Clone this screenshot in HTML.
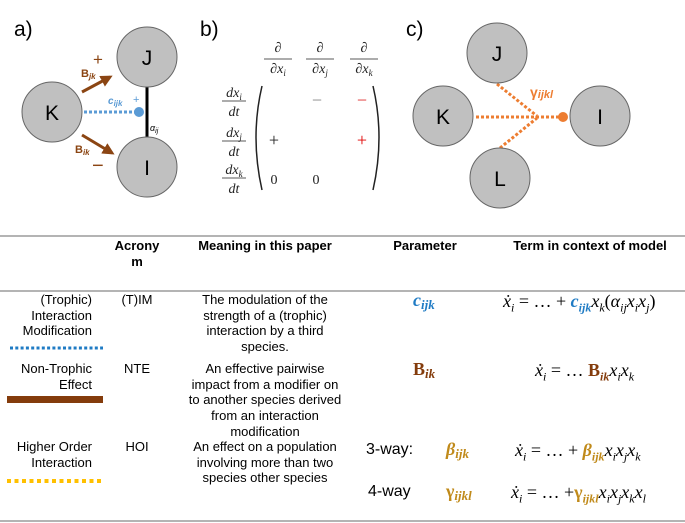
<!DOCTYPE html>
<html><head><meta charset="utf-8"><style>
body{margin:0;background:#fff;width:685px;height:523px;overflow:hidden;position:relative;font-family:"Liberation Sans",sans-serif}
.t{position:absolute;font-family:"Liberation Sans Narrow","Liberation Sans",sans-serif;font-size:13px;line-height:15.7px;color:#000}
.c{text-align:center}
.r{text-align:right}
.m{font-family:"Liberation Serif",serif;font-style:italic}
.e{font-size:18px!important;line-height:20px!important}
.e sub{font-size:12px}
</style></head><body>
<svg width="685" height="523" style="position:absolute;left:0;top:0" font-family="Liberation Sans, sans-serif">
<defs><marker id="ab" markerWidth="4" markerHeight="4" refX="3" refY="2" orient="auto" markerUnits="strokeWidth"><path d="M0,0 L4,2 L0,4 z" fill="#8B4513"/></marker></defs>
<text x="14" y="36" font-size="21">a)</text>
<text x="200" y="36" font-size="21">b)</text>
<text x="406" y="36" font-size="21">c)</text>
<!-- a -->
<line x1="147" y1="85" x2="147" y2="140" stroke="#000" stroke-width="3"/>
<circle cx="52" cy="112" r="30" fill="#c0c0c0" stroke="#666"/>
<circle cx="147" cy="57" r="30" fill="#c0c0c0" stroke="#666"/>
<circle cx="147" cy="167" r="30" fill="#c0c0c0" stroke="#666"/>
<text x="52" y="120" font-size="21" text-anchor="middle">K</text>
<text x="147" y="65" font-size="21" text-anchor="middle">J</text>
<text x="147" y="175" font-size="21" text-anchor="middle">I</text>
<line x1="84" y1="112" x2="136" y2="112" stroke="#5b9bd5" stroke-width="3" stroke-dasharray="3,2"/>
<circle cx="139" cy="112" r="5" fill="#5b9bd5"/>
<text x="108" y="104" font-size="10" fill="#5b9bd5" font-weight="bold" font-style="italic">c<tspan font-size="8" dy="2">ijk</tspan></text>
<text x="133" y="103" font-size="11" fill="#5b9bd5">+</text>
<text x="150" y="131" font-size="9" font-style="italic">α<tspan font-size="7" dy="2">ij</tspan></text>
<line x1="82" y1="92" x2="110" y2="77" stroke="#8B4513" stroke-width="3" marker-end="url(#ab)"/>
<line x1="82" y1="135" x2="112" y2="153" stroke="#8B4513" stroke-width="3" marker-end="url(#ab)"/>
<text x="81" y="77" font-size="11" fill="#8B4513" font-weight="bold">B<tspan font-size="8" dy="2" font-style="italic">jk</tspan></text>
<text x="93" y="65" font-size="17" fill="#8B4513">+</text>
<text x="75" y="153" font-size="11" fill="#8B4513" font-weight="bold">B<tspan font-size="8" dy="2" font-style="italic">ik</tspan></text>
<text x="92" y="172" font-size="20" fill="#8B4513">−</text>
<!-- b -->
<g font-family="Liberation Serif, serif" font-size="14" text-anchor="middle" fill="#222">
<text x="278" y="52">∂</text><line x1="264" y1="59" x2="292" y2="59" stroke="#222" stroke-width="0.8"/><text x="278" y="73" font-style="italic">∂x<tspan font-size="9" dy="3">i</tspan></text>
<text x="320" y="52">∂</text><line x1="306" y1="59" x2="334" y2="59" stroke="#222" stroke-width="0.8"/><text x="320" y="73" font-style="italic">∂x<tspan font-size="9" dy="3">j</tspan></text>
<text x="364" y="52">∂</text><line x1="350" y1="59" x2="378" y2="59" stroke="#222" stroke-width="0.8"/><text x="364" y="73" font-style="italic">∂x<tspan font-size="9" dy="3">k</tspan></text>
<text x="234" y="97" font-style="italic">dx<tspan font-size="9" dy="3">i</tspan></text><line x1="222" y1="101" x2="246" y2="101" stroke="#222" stroke-width="0.8"/><text x="234" y="116" font-style="italic">dt</text>
<text x="234" y="137" font-style="italic">dx<tspan font-size="9" dy="3">j</tspan></text><line x1="222" y1="141" x2="246" y2="141" stroke="#222" stroke-width="0.8"/><text x="234" y="156" font-style="italic">dt</text>
<text x="234" y="174" font-style="italic">dx<tspan font-size="9" dy="3">k</tspan></text><line x1="222" y1="178" x2="246" y2="178" stroke="#222" stroke-width="0.8"/><text x="234" y="193" font-style="italic">dt</text>
<text x="317" y="106" fill="#888" font-size="18">−</text><text x="362" y="106" fill="#e03030" font-size="18">−</text>
<text x="274" y="146" font-size="18">+</text><text x="362" y="146" fill="#e00000" font-size="18">+</text>
<text x="274" y="184">0</text><text x="316" y="184">0</text>
</g>
<path d="M262,86 Q250,137 262,190" fill="none" stroke="#222" stroke-width="1.5"/>
<path d="M373,86 Q385,137 373,190" fill="none" stroke="#222" stroke-width="1.5"/>
<!-- c -->
<g stroke="#ed7d31" stroke-width="3" stroke-dasharray="3,2" fill="none">
<line x1="476" y1="117" x2="560" y2="117"/>
<line x1="497" y1="84" x2="537" y2="116"/>
<line x1="500" y1="148" x2="537" y2="118"/>
</g>
<circle cx="563" cy="117" r="5" fill="#ed7d31"/>
<circle cx="497" cy="53" r="30" fill="#c0c0c0" stroke="#666"/>
<circle cx="443" cy="116" r="30" fill="#c0c0c0" stroke="#666"/>
<circle cx="600" cy="116" r="30" fill="#c0c0c0" stroke="#666"/>
<circle cx="500" cy="178" r="30" fill="#c0c0c0" stroke="#666"/>
<text x="497" y="61" font-size="21" text-anchor="middle">J</text>
<text x="443" y="124" font-size="21" text-anchor="middle">K</text>
<text x="600" y="124" font-size="21" text-anchor="middle">I</text>
<text x="500" y="186" font-size="21" text-anchor="middle">L</text>
<text x="530" y="97" font-size="14" fill="#ed7d31" font-weight="bold">γ<tspan font-size="11" font-style="italic" dy="1">ijkl</tspan></text>
<!-- table lines -->
<line x1="0" y1="236" x2="685" y2="236" stroke="#888" stroke-width="1.2"/>
<line x1="0" y1="291" x2="685" y2="291" stroke="#888" stroke-width="1.2"/>
<line x1="0" y1="521" x2="685" y2="521" stroke="#888" stroke-width="1.2"/>
<line x1="10" y1="348" x2="103" y2="348" stroke="#1f7bc4" stroke-width="3" stroke-dasharray="3,2.3"/>
<rect x="7" y="396" width="96" height="7" fill="#843c0c"/>
<line x1="7" y1="481" x2="103" y2="481" stroke="#ffc000" stroke-width="4" stroke-dasharray="4,3.5"/>
</svg>
<div class="t c" style="left:112px;top:238px;width:50px;font-weight:bold">Acrony<br>m</div>
<div class="t c" style="left:180px;top:238px;width:170px;font-weight:bold">Meaning in this paper</div>
<div class="t c" style="left:385px;top:238px;width:80px;font-weight:bold">Parameter</div>
<div class="t c" style="left:500px;top:238px;width:180px;font-weight:bold">Term in context of model</div>

<div class="t r" style="left:0;top:292px;width:92px">(Trophic)<br>Interaction<br>Modification</div>
<div class="t c" style="left:112px;top:292px;width:50px">(T)IM</div>
<div class="t c" style="left:180px;top:292px;width:170px">The modulation of the<br>strength of a (trophic)<br>interaction by a third<br>species.</div>
<div class="t r" style="left:0;top:361px;width:92px">Non-Trophic<br>Effect</div>
<div class="t c" style="left:112px;top:361px;width:50px">NTE</div>
<div class="t c" style="left:180px;top:361px;width:170px">An effective pairwise<br>impact from a modifier on<br>to another species derived<br>from an interaction<br>modification</div>
<div class="t r" style="left:0;top:439px;width:92px">Higher Order<br>Interaction</div>
<div class="t c" style="left:112px;top:439px;width:50px">HOI</div>
<div class="t c" style="left:180px;top:439px;width:170px">An effect on a population<br>involving more than two<br>species other species</div>

<div class="t m" style="left:413px;top:293px;font-size:18px;color:#1f7bc4;font-weight:bold">c<span style="font-size:13px;position:relative;top:3px">ijk</span></div>
<div class="t m" style="left:413px;top:362px;font-size:18px;color:#843c0c;font-weight:bold;font-style:normal">B<span style="font-size:13px;position:relative;top:3px;font-style:italic">ik</span></div>
<div class="t" style="left:366px;top:442px;font-size:16px">3-way:</div>
<div class="t m" style="left:446px;top:442px;font-size:18px;color:#c08a1a;font-weight:bold">β<span style="font-size:13px;position:relative;top:3px">ijk</span></div>
<div class="t" style="left:368px;top:484px;font-size:16px">4-way</div>
<div class="t m" style="left:446px;top:484px;font-size:18px;color:#c08a1a;font-weight:bold;font-style:normal">γ<span style="font-size:13px;position:relative;top:3px;font-style:italic">ijkl</span></div>

<div class="t m e" style="left:503px;top:291px;font-style:normal;white-space:nowrap"><i>ẋ<sub>i</sub></i> = … + <b style="color:#1f7bc4"><i>c<sub>ijk</sub></i></b><i>x<sub>k</sub></i>(<i>α<sub>ij</sub>x<sub>i</sub>x<sub>j</sub></i>)</div>
<div class="t m e" style="left:535px;top:360px;font-style:normal;white-space:nowrap"><i>ẋ<sub>i</sub></i> = … <b style="color:#843c0c">B<sub><i>ik</i></sub></b><i>x<sub>i</sub>x<sub>k</sub></i></div>
<div class="t m e" style="left:515px;top:440px;font-style:normal;white-space:nowrap"><i>ẋ<sub>i</sub></i> = … + <b style="color:#c08a1a"><i>β<sub>ijk</sub></i></b><i>x<sub>i</sub>x<sub>j</sub>x<sub>k</sub></i></div>
<div class="t m e" style="left:511px;top:482px;font-style:normal;white-space:nowrap"><i>ẋ<sub>i</sub></i> = … +<b style="color:#c08a1a">γ<sub><i>ijkl</i></sub></b><i>x<sub>i</sub>x<sub>j</sub>x<sub>k</sub>x<sub>l</sub></i></div>
</body></html>
